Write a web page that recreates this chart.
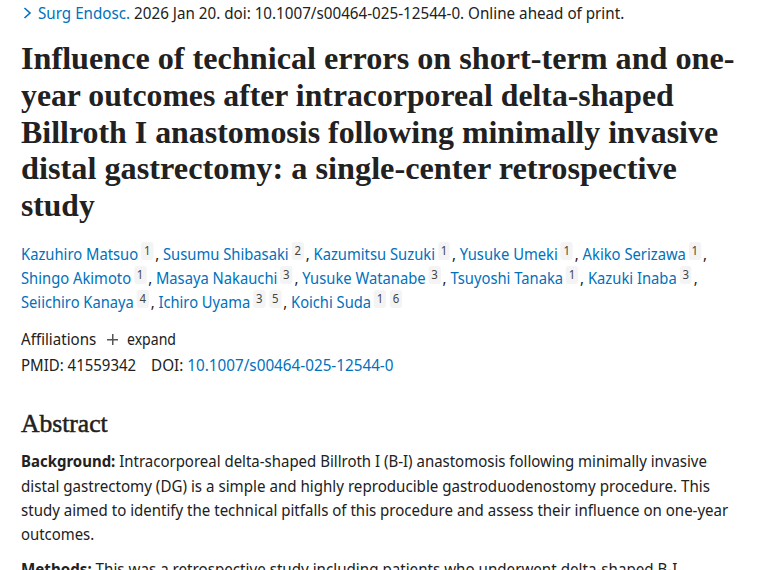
<!DOCTYPE html>
<html>
<head>
<meta charset="utf-8">
<script src="https://cdn.jsdelivr.net/npm/chart.js@4"></script>
<style>
html, body { margin: 0; padding: 0; background: #fff; }
body { width: 760px; height: 570px; overflow: hidden; position: relative; font-family: "Noto Sans", sans-serif; font-size: 15.5px; color: #212121; }
.line { position: absolute; left: 21px; white-space: nowrap; transform-origin: 0 50%; line-height: 24px; }
.title { font-family: "Liberation Serif", serif; font-weight: 700; font-size: 32px; line-height: 36px; color: #212121; }
.heading { font-family: "Liberation Serif", serif; font-size: 25px; line-height: 30px; -webkit-text-stroke: 0.5px #212121; }
a { color: #0071bc; text-decoration: none; }
sup { display: inline-block; vertical-align: baseline; position: relative; top: -5px; font-size: 12px; line-height: 18px; padding: 0 3px; margin: 0 2px 0 3px; background: #f4f4f4; color: #444; border-radius: 3px; }
sup + sup { margin-left: 2px; }
#chevron { position: absolute; left: 22px; top: 7px; }
</style>
</head>
<body>
<svg id="chevron" width="10" height="12" viewBox="0 0 10 12"><path d="M2.5 1 L8 6 L2.5 11" fill="none" stroke="#0071bc" stroke-width="1.6"/></svg>
<script>
const journal = "Surg Endosc.";
const citation = " 2026 Jan 20. doi: 10.1007/s00464-025-12544-0. Online ahead of print.";
const titleLines = [
    "Influence of technical errors on short-term and one-",
    "year outcomes after intracorporeal delta-shaped",
    "Billroth I anastomosis following minimally invasive",
    "distal gastrectomy: a single-center retrospective",
    "study"
];
const authorLines = [
    [["Kazuhiro Matsuo", [1]], ["Susumu Shibasaki", [2]], ["Kazumitsu Suzuki", [1]], ["Yusuke Umeki", [1]], ["Akiko Serizawa", [1]]],
    [["Shingo Akimoto", [1]], ["Masaya Nakauchi", [3]], ["Yusuke Watanabe", [3]], ["Tsuyoshi Tanaka", [1]], ["Kazuki Inaba", [3]]],
    [["Seiichiro Kanaya", [4]], ["Ichiro Uyama", [3, 5]], ["Koichi Suda", [1, 6]]]
];
const pmid = "41559342";
const doi = "10.1007/s00464-025-12544-0";
const backgroundLines = [
    "Intracorporeal delta-shaped Billroth I (B-I) anastomosis following minimally invasive",
    "distal gastrectomy (DG) is a simple and highly reproducible gastroduodenostomy procedure. This",
    "study aimed to identify the technical pitfalls of this procedure and assess their influence on one-year",
    "outcomes."
];
const methodsLine = "This was a retrospective study including patients who underwent delta-shaped B-I";

// every line is squeezed to the width it has in the reference
function addLine(html, centerY, rightEdge, cls, left) {
    const el = document.createElement("div");
    el.className = "line" + (cls ? " " + cls : "");
    el.innerHTML = html;
    document.body.appendChild(el);
    const x = left === undefined ? 21 : left;
    el.style.left = x + "px";
    el.style.top = (centerY - el.offsetHeight / 2) + "px";
    el.style.transform = "scaleX(" + (rightEdge - x) / el.offsetWidth + ")";
    return el;
}

function authorHtml(authors, endComma) {
    return authors.map(([name, refs], i) => {
        const comma = i < authors.length - 1 || endComma ? "," : "";
        return "<a>" + name + "</a>" + refs.map(r => "<sup>" + r + "</sup>").join("") + comma;
    }).join(" ");
}

addLine("<a>" + journal + "</a>" + citation, 13, 624, "", 38);

const titleY = [58, 95, 132, 168, 205];
const titleRight = [735, 674, 718, 677, 95];
titleLines.forEach((text, i) => addLine(text, titleY[i], titleRight[i], "title"));

const authorY = [254, 278, 302];
const authorRight = [707, 698, 404];
authorLines.forEach((authors, i) => addLine(authorHtml(authors, i < 2), authorY[i], authorRight[i]));

addLine("Affiliations", 339, 96);
addLine("expand", 339, 176, "", 127);
addLine("PMID: " + pmid, 365, 136);
addLine("DOI: <a>" + doi + "</a>", 365, 394, "", 151);

addLine("Abstract", 424, 108, "heading");

const bodyY = [461, 486, 510, 534];
const bodyRight = [707, 710, 728, 94];
backgroundLines.forEach((text, i) => {
    addLine((i === 0 ? "<b>Background:</b> " : "") + text, bodyY[i], bodyRight[i]);
});
addLine("<b>Methods:</b> " + methodsLine, 569, 677);

const plus = document.createElement("div");
plus.style.cssText = "position:absolute;left:107px;top:334px;width:11px;height:11px;background:linear-gradient(#555,#555) center/11px 1.5px no-repeat,linear-gradient(#555,#555) center/1.5px 11px no-repeat";
document.body.appendChild(plus);
</script>
</body>
</html>
